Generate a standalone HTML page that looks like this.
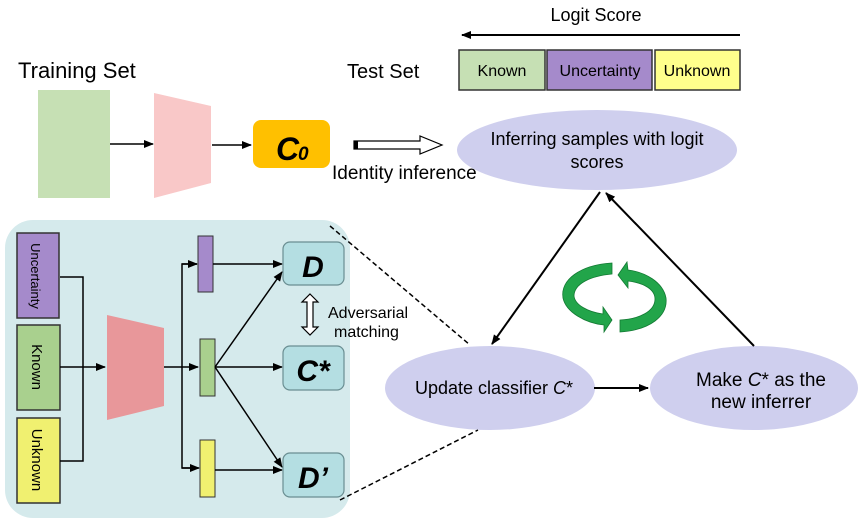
<!DOCTYPE html>
<html><head><meta charset="utf-8"><style>
body{margin:0;background:#fff}
svg{display:block;font-family:"Liberation Sans",Arial,sans-serif}
</style></head><body>
<svg width="860" height="522" viewBox="0 0 860 522" xmlns="http://www.w3.org/2000/svg">
<defs>
<marker id="a" markerWidth="10" markerHeight="8" refX="9" refY="4" orient="auto" markerUnits="userSpaceOnUse"><path d="M0,0 L10,4 L0,8 z" fill="#000"/></marker>
</defs>
<text x="596" y="21" font-size="18" text-anchor="middle">Logit Score</text>
<line x1="740" y1="35" x2="462" y2="35" stroke="#000" stroke-width="2" marker-end="url(#a)"/>
<rect x="459" y="50" width="86" height="40" fill="#C6E0B4" stroke="#333" stroke-width="1.5"/>
<text x="502" y="76" font-size="16" text-anchor="middle">Known</text>
<rect x="547" y="50" width="105" height="40" fill="#A58ACB" stroke="#333" stroke-width="1.5"/>
<text x="600" y="76" font-size="16" text-anchor="middle">Uncertainty</text>
<rect x="655" y="50" width="85" height="40" fill="#FFFF8C" stroke="#333" stroke-width="1.5"/>
<text x="697" y="76" font-size="16" text-anchor="middle">Unknown</text>
<text x="18" y="78" font-size="22">Training Set</text>
<text x="347" y="78" font-size="20">Test Set</text>
<rect x="38" y="90" width="72" height="108" fill="#C6E0B4"/>
<polygon points="154,93 211,106 211,183 154,198" fill="#F9C8C8"/>
<line x1="110" y1="144" x2="153" y2="144" stroke="#000" stroke-width="1.5" marker-end="url(#a)"/>
<line x1="212" y1="145" x2="251" y2="145" stroke="#000" stroke-width="1.5" marker-end="url(#a)"/>
<rect x="253" y="120" width="77" height="48" rx="8" fill="#FFC000"/>
<text x="276" y="160" font-size="32" font-weight="bold" font-style="italic">C</text>
<text x="298" y="160" font-size="19" font-weight="bold" font-style="italic">0</text>
<polygon points="354,141 420,141 420,136 442,145 420,154 420,149 354,149" fill="#fff" stroke="#000" stroke-width="1.2"/>
<rect x="354" y="141" width="4" height="8" fill="#000"/>
<text x="332" y="179" font-size="19">Identity inference</text>
<ellipse cx="597" cy="150" rx="140" ry="40" fill="#CFCFEE"/>
<text x="597" y="145" font-size="18" text-anchor="middle">Inferring samples with logit</text>
<text x="597" y="168" font-size="18" text-anchor="middle">scores</text>
<ellipse cx="490" cy="388" rx="105" ry="42" fill="#CFCFEE"/>
<text x="494" y="394" font-size="18" text-anchor="middle">Update classifier <tspan font-style="italic">C</tspan>*</text>
<ellipse cx="754" cy="388" rx="104" ry="42" fill="#CFCFEE"/>
<text x="761" y="386" font-size="19" text-anchor="middle">Make <tspan font-style="italic">C</tspan>* as the</text>
<text x="761" y="408" font-size="19" text-anchor="middle">new inferrer</text>
<line x1="600" y1="192" x2="492" y2="344" stroke="#000" stroke-width="2" marker-end="url(#a)"/>
<line x1="754" y1="346" x2="606" y2="193" stroke="#000" stroke-width="2" marker-end="url(#a)"/>
<line x1="594" y1="388" x2="648" y2="388" stroke="#000" stroke-width="2" marker-end="url(#a)"/>
<g fill="#22A54A" stroke="#137A33" stroke-width="0.8">
<path d="M612,263 C580,265 560,280 563,298 C566,312 585,323 604,325 L604,332 L612,320 L603,307 L603,314 C588,312 575,305 574,296 C574,284 590,276 612,274 Z"/>
<path d="M620,332 C650,330 668,316 666,298 C663,282 645,272 628,270 L627,262 L618,275 L628,288 L628,281 C645,283 655,290 655,299 C655,311 640,319 620,320 Z"/>
</g>
<rect x="5" y="220" width="345" height="298" rx="28" fill="#D5EAEC"/>
<line x1="330" y1="226" x2="470" y2="345" stroke="#000" stroke-width="1.5" stroke-dasharray="5,3"/>
<line x1="340" y1="500" x2="478" y2="430" stroke="#000" stroke-width="1.5" stroke-dasharray="5,3"/>
<rect x="17" y="233" width="42" height="85" fill="#A58ACB" stroke="#333" stroke-width="1.5"/>
<text transform="translate(31,276) rotate(90)" font-size="13" text-anchor="middle">Uncertainty</text>
<rect x="17" y="325" width="43" height="85" fill="#A9D08E" stroke="#333" stroke-width="1.5"/>
<text transform="translate(32,367) rotate(90)" font-size="15" text-anchor="middle">Known</text>
<rect x="17" y="418" width="43" height="85" fill="#F0F070" stroke="#333" stroke-width="1.5"/>
<text transform="translate(32,460) rotate(90)" font-size="15" text-anchor="middle">Unknown</text>
<polyline points="60,277 83,277 83,461 60,461" fill="none" stroke="#000" stroke-width="1.5"/>
<line x1="60" y1="367" x2="105" y2="367" stroke="#000" stroke-width="1.5" marker-end="url(#a)"/>
<polygon points="107,315 164,328 164,406 107,420" fill="#E8979A"/>
<line x1="164" y1="367" x2="198" y2="367" stroke="#000" stroke-width="1.5" marker-end="url(#a)"/>
<polyline points="197,264 182,264 182,468 198,468" fill="none" stroke="#000" stroke-width="1.5"/>
<line x1="182" y1="264" x2="197" y2="264" stroke="#000" stroke-width="1.5" marker-end="url(#a)"/>
<line x1="182" y1="468" x2="199" y2="468" stroke="#000" stroke-width="1.5" marker-end="url(#a)"/>
<rect x="198" y="236" width="15" height="56" fill="#A58ACB" stroke="#333"/>
<rect x="200" y="339" width="15" height="57" fill="#A9D08E" stroke="#333"/>
<rect x="200" y="440" width="15" height="57" fill="#F0F070" stroke="#333"/>
<line x1="213" y1="264" x2="282" y2="264" stroke="#000" stroke-width="1.5" marker-end="url(#a)"/>
<line x1="215" y1="367" x2="282" y2="272" stroke="#000" stroke-width="1.5" marker-end="url(#a)"/>
<line x1="215" y1="367" x2="282" y2="367" stroke="#000" stroke-width="1.5" marker-end="url(#a)"/>
<line x1="215" y1="367" x2="282" y2="467" stroke="#000" stroke-width="1.5" marker-end="url(#a)"/>
<line x1="215" y1="470" x2="282" y2="470" stroke="#000" stroke-width="1.5" marker-end="url(#a)"/>
<rect x="283" y="242" width="61" height="43" rx="7" fill="#B4DEE2" stroke="#6A8E92" stroke-width="1.2"/>
<text x="313" y="277" font-size="30" font-weight="bold" font-style="italic" text-anchor="middle">D</text>
<rect x="283" y="346" width="61" height="44" rx="7" fill="#B4DEE2" stroke="#6A8E92" stroke-width="1.2"/>
<text x="313" y="381" font-size="30" font-weight="bold" font-style="italic" text-anchor="middle">C*</text>
<rect x="283" y="453" width="61" height="44" rx="7" fill="#B4DEE2" stroke="#6A8E92" stroke-width="1.2"/>
<text x="313" y="488" font-size="30" font-weight="bold" font-style="italic" text-anchor="middle">D’</text>
<polygon points="310,294 318,302 313,302 313,327 318,327 310,335 302,327 307,327 307,302 302,302" fill="#fff" stroke="#000" stroke-width="1.2"/>
<text x="328" y="318" font-size="16">Adversarial</text>
<text x="334" y="337" font-size="16">matching</text>
</svg>
</body></html>
